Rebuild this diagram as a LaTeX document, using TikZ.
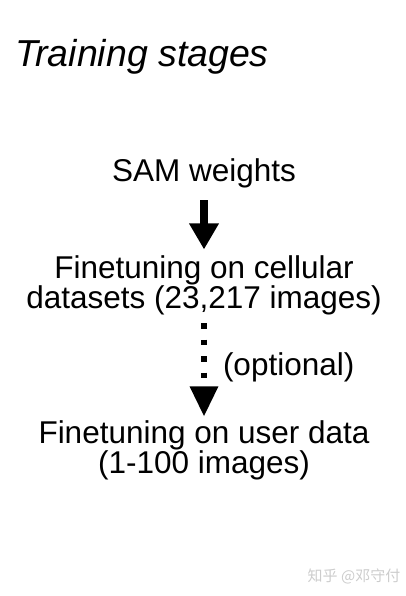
\documentclass[tikz,border=0pt]{standalone}
\usepackage{fontspec}
\setmainfont{Liberation Sans}
\newfontfamily\cjkfont{Noto Sans CJK SC}
\usetikzlibrary{arrows.meta}

\tikzset{
  stage/.style={anchor=base, align=center, inner sep=0pt, font=\fontsize{31.5}{30}\selectfont},
  flow/.style={-{Triangle[width=28pt,length=26pt]}, line width=8pt},
  optflow/.style={-{Triangle[width=27pt,length=30pt]}, line width=6pt, dash pattern=on 5.5pt off 11pt},
}

\begin{document}
\begin{tikzpicture}[x=1pt,y=1pt]
\useasboundingbox (0,0) rectangle (406,-596);

\node[anchor=base west, inner sep=0pt, font=\fontsize{37.5}{40}\selectfont\itshape] (0) at (15,-67)
{Training stages};

\node[stage] (1) at (204,-182)
{SAM weights};

% base = last line
\node[stage] (2) at (204,-308)
{Finetuning on cellular\\datasets (23,217 images)};

\node[stage] (3) at (204,-473)
{Finetuning on user data\\(1-100 images)};

\draw[flow, shorten <=11.5pt, shorten >=5.5pt] (1) -- (2);

\draw[optflow, shorten <=8.5pt, shorten >=3.5pt] (2) -- node[anchor=west, xshift=16pt, inner sep=0pt, font=\fontsize{31.5}{30}\selectfont] (4) {(optional)} (3);

% watermark
\node[text=gray!40, font=\cjkfont\fontsize{15}{15}\selectfont] (5) at (354,-576) {知乎 @邓守付};

\end{tikzpicture}
\end{document}
